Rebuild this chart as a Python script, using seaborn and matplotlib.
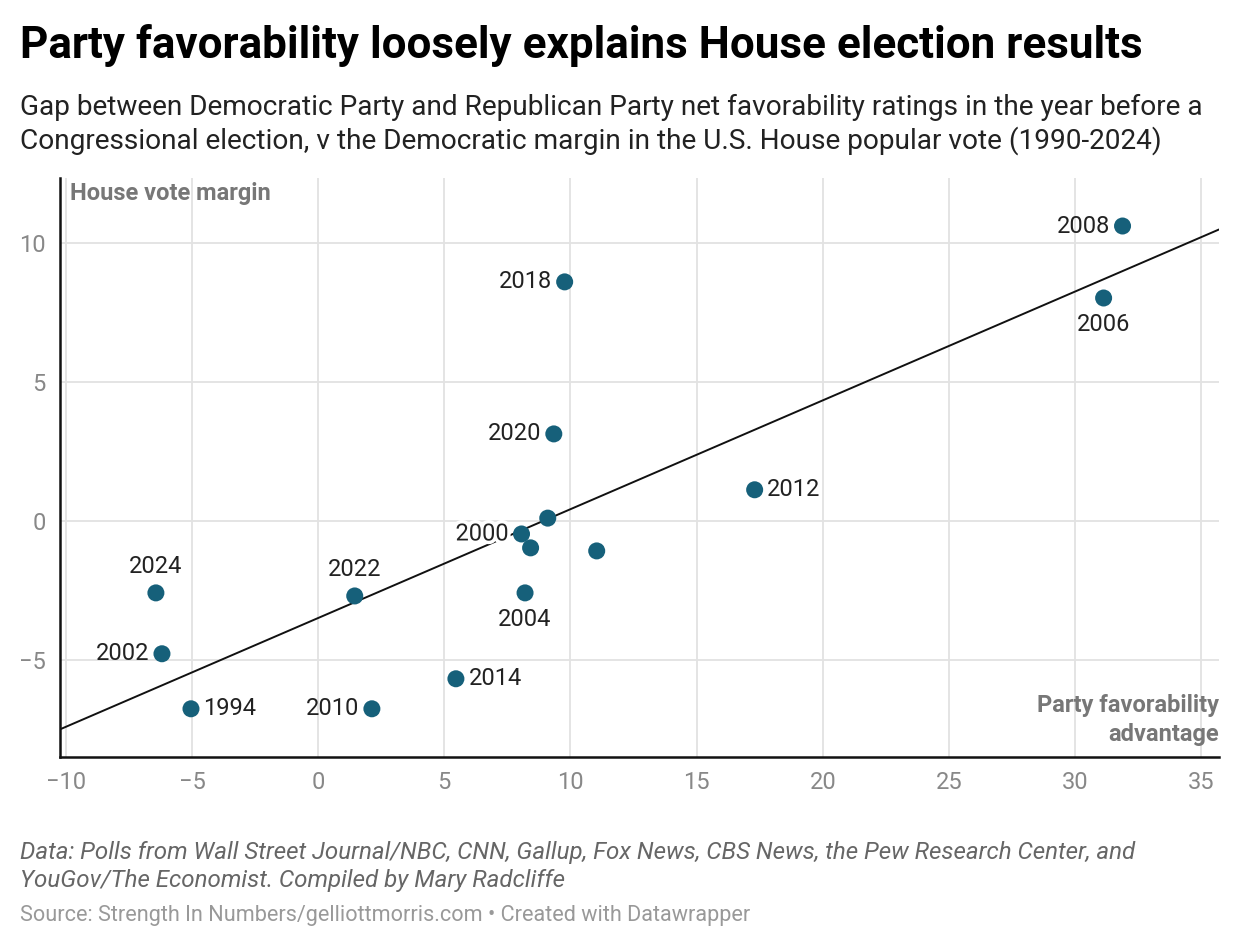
import matplotlib
matplotlib.use('Agg')
import matplotlib.pyplot as plt
import matplotlib.patheffects as pe
import seaborn as sns
import pandas as pd
import numpy as np

# Dados (vantagem de favorabilidade x margem na Câmara)
anos = ['2008', '2006', '2018', '2020', '2012', '', '2000', '', '',
        '2004', '2024', '2022', '2002', '1994', '2010', '2014']
favorabilidade = [31.88, 31.13, 9.77, 9.34, 17.3, 9.1, 8.06, 8.42, 11.04,
                  8.2, -6.43, 1.45, -6.19, -5.04, 2.13, 5.46]
margem = [10.61, 8.02, 8.6, 3.13, 1.12, 0.1, -0.47, -0.97, -1.08,
          -2.59, -2.59, -2.7, -4.78, -6.76, -6.76, -5.68]
x_ticks = [-10, -5, 0, 5, 10, 15, 20, 25, 30, 35]
y_ticks = [-5, 0, 5, 10]

df = pd.DataFrame({'ano': anos, 'fav': favorabilidade, 'margem': margem})

# posição dos rótulos (estilo)
posicoes = {'2008': 'left', '2006': 'below', '2018': 'left', '2020': 'left',
            '2012': 'right', '2000': 'left', '2004': 'below', '2024': 'above',
            '2022': 'above', '2002': 'left', '1994': 'right', '2010': 'left',
            '2014': 'right'}

sns.set_style('white')
plt.rcParams['font.family'] = ['Roboto', 'DejaVu Sans']

fig = plt.figure(figsize=(12.4, 9.5), dpi=100)
ax = fig.add_axes([0.048, 0.203, 0.935, 0.610])
ax.set_xlim(-10.25, 35.7)
ax.set_ylim(-8.5, 12.35)

ax.set_xticks(x_ticks)
ax.set_yticks(y_ticks)
ax.set_xticklabels([str(t).replace('-', '\u2212') for t in x_ticks])
ax.set_yticklabels([str(t).replace('-', '\u2212') for t in y_ticks])
ax.grid(True, color='#e2e2e2', linewidth=1.3)
ax.set_axisbelow(True)
ax.tick_params(axis='both', length=0, labelsize=17, labelcolor='#888888', pad=10)
for lado in ['top', 'right']:
    ax.spines[lado].set_visible(False)
for lado in ['left', 'bottom']:
    ax.spines[lado].set_color('#111111')
    ax.spines[lado].set_linewidth(1.8)

# linha de tendência (regressão linear dos pontos)
sns.regplot(data=df, x='fav', y='margem', scatter=False, ci=None, truncate=False,
            line_kws={'color': '#111111', 'linewidth': 1.4, 'zorder': 2}, ax=ax)

sns.scatterplot(data=df, x='fav', y='margem', s=150, color='#16607a',
                edgecolor='none', zorder=4, ax=ax)
ax.set_xlabel('')
ax.set_ylabel('')

halo = [pe.withStroke(linewidth=5, foreground='white')]
for _, r in df.iterrows():
    if not r['ano']:
        continue
    p = posicoes[r['ano']]
    if p == 'left':
        kw = dict(xytext=(-9, 0), ha='right', va='center')
    elif p == 'right':
        kw = dict(xytext=(9, 0), ha='left', va='center')
    elif p == 'above':
        kw = dict(xytext=(0, 11), ha='center', va='bottom')
    else:
        kw = dict(xytext=(0, -11), ha='center', va='top')
    t = ax.annotate(r['ano'], (r['fav'], r['margem']), textcoords='offset points',
                    fontsize=17, color='#222222', zorder=5, **kw)
    if r['ano'] == '2000':
        t.set_path_effects(halo)

ax.text(0.009, 0.993, 'House vote margin', transform=ax.transAxes, fontsize=17,
        fontweight='bold', color='#777777', ha='left', va='top')
ax.text(1.0, 0.064, 'Party favorability\nadvantage', transform=ax.transAxes,
        fontsize=17, fontweight='bold', color='#777777', ha='right', va='center',
        linespacing=1.3)

fig.text(0.016, 0.952, 'Party favorability loosely explains House election results',
         fontsize=31.7, fontweight='bold', color='#000000', ha='left', va='center')
fig.text(0.016, 0.869, 'Gap between Democratic Party and Republican Party net favorability ratings in the year before a\n'
         'Congressional election, v the Democratic margin in the U.S. House popular vote (1990-2024)',
         fontsize=20.2, color='#222222', ha='left', va='center', linespacing=1.2)
fig.text(0.016, 0.088, 'Data: Polls from Wall Street Journal/NBC, CNN, Gallup, Fox News, CBS News, the Pew Research Center, and\n'
         'YouGov/The Economist. Compiled by Mary Radcliffe',
         fontsize=17.4, style='italic', color='#666666', ha='left', va='center', linespacing=1.3)
fig.text(0.016, 0.036, 'Source: Strength In Numbers/gelliottmorris.com \u2022 Created with Datawrapper',
         fontsize=15.6, color='#999999', ha='left', va='center')

fig.savefig('out.png', dpi=100, facecolor='white')
